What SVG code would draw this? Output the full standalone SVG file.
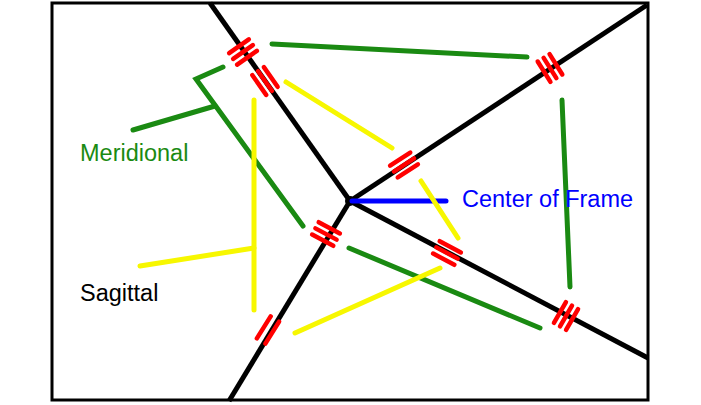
<svg xmlns="http://www.w3.org/2000/svg" width="701" height="405" viewBox="0 0 701 405">
<style>
.ax{stroke:#000;stroke-width:5;fill:none}
.g{stroke:#1a8a12;stroke-width:5;stroke-linecap:round;fill:none}
.y{stroke:#f7f700;stroke-width:5;stroke-linecap:round;fill:none}
text{font-family:"Liberation Sans",sans-serif;font-size:23.5px}
</style>
<defs>
<g id="t3" stroke="#f00" stroke-width="4.5" stroke-linecap="round"><line x1="-12" y1="-7" x2="12" y2="-7"/><line x1="-12" y1="0" x2="12" y2="0"/><line x1="-12" y1="7" x2="12" y2="7"/></g>
<g id="t2" stroke="#f00" stroke-width="4.5" stroke-linecap="round"><line x1="-13" y1="-5" x2="13" y2="-5"/><line x1="-13" y1="5" x2="13" y2="5"/></g>
</defs>
<rect width="701" height="405" fill="#fff"/>
<g id="connectors">
<line class="ax" x1="350" y1="201" x2="210" y2="3"/>
<line class="ax" x1="350" y1="201" x2="647" y2="5"/>
<line class="ax" x1="350" y1="201" x2="648" y2="358"/>
<line class="ax" x1="350" y1="201" x2="229" y2="401"/>
<circle cx="350" cy="201" r="5"/>
<line x1="352" y1="201" x2="446" y2="201" stroke="#00f" stroke-width="5" stroke-linecap="round"/>
<line class="g" x1="272" y1="44" x2="527" y2="57"/>
<line class="g" x1="562" y1="100" x2="570" y2="287"/>
<line class="g" x1="349" y1="248" x2="540" y2="328"/>
<polyline class="g" points="223,67 196,79 303,226"/>
<line class="g" x1="133" y1="130" x2="215" y2="106"/>
<line class="y" x1="286" y1="82" x2="392" y2="148"/>
<line class="y" x1="421" y1="181" x2="458" y2="238"/>
<line class="y" x1="440" y1="268" x2="295" y2="333"/>
<line class="y" x1="254" y1="100" x2="254" y2="310"/>
<line class="y" x1="140" y1="266" x2="254" y2="248"/>
</g>
<g id="ticks">
<use href="#t3" transform="translate(243,52) rotate(-35)"/>
<use href="#t3" transform="translate(265,81) rotate(55)"/>
<use href="#t3" transform="translate(404,165) rotate(-33)"/>
<use href="#t3" transform="translate(550,68) rotate(58)"/>
<use href="#t3" transform="translate(447,253) rotate(28)"/>
<use href="#t3" transform="translate(566,316) rotate(-60)"/>
<use href="#t3" transform="translate(326,234) rotate(28)"/>
<use href="#t2" transform="translate(268,330) rotate(-58)"/>
</g>
<rect x="52" y="3" width="596" height="397" fill="none" stroke="#000" stroke-width="3"/>
<g id="labels">
<text x="80" y="161" fill="#1a8a12">Meridional</text>
<text x="462" y="207" fill="#00f">Center of Frame</text>
<text x="80" y="301" fill="#000">Sagittal</text>
</g>
</svg>
